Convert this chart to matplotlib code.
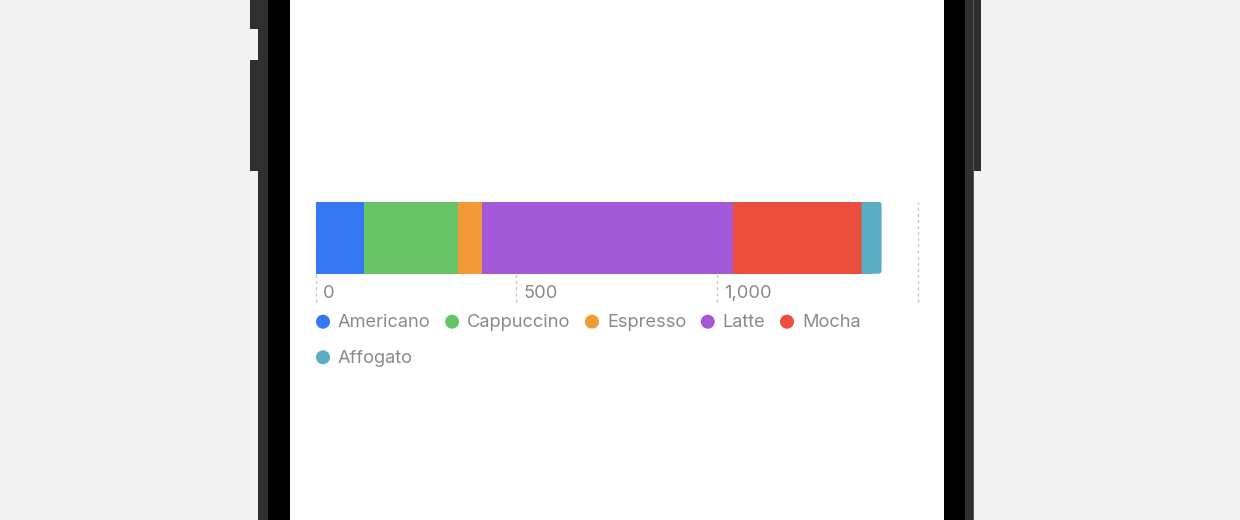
import matplotlib
matplotlib.use("Agg")
import matplotlib.pyplot as plt
from matplotlib.patches import Rectangle, Ellipse, FancyBboxPatch
from matplotlib.transforms import offset_copy

# ---- data ----
categories = ["Americano", "Cappuccino", "Espresso", "Latte", "Mocha", "Affogato"]
values = [120, 235, 60, 625, 320, 50]
colors = ["#3478F6", "#65C466", "#F19A37", "#A258D7", "#EB4E3D", "#59ADC4"]
tick_values = [0, 500, 1000, 1500]
tick_labels = ["0", "500", "1,000", ""]

W, H = 1240, 520
plt.rcParams['font.family'] = ['Inter', 'DejaVu Sans']
fig = plt.figure(figsize=(W / 100, H / 100), dpi=100)
fig.patch.set_facecolor("#F2F2F2")
FS = 13.15
TXT = "#8A8A8E"

def fx(px):
    return px / W

def fy(py):
    return 1 - py / H

def frect(x0, y0, x1, y1, color, z=0):
    fig.add_artist(Rectangle((fx(x0), fy(y1)), fx(x1) - fx(x0), fy(y0) - fy(y1),
                             transform=fig.transFigure, facecolor=color,
                             edgecolor="none", zorder=z))

# ---- phone mockup ----
frect(249.5, 0, 258.5, 29, "#2E2E2E")
frect(249.5, 60, 258.5, 171, "#2E2E2E")
frect(258.3, 0, 268, 520, "#2F2F2F")
frect(268, 0, 290, 520, "#000000")
frect(290, 0, 944.3, 520, "#FFFFFF")
frect(944.3, 0, 965, 520, "#000000")
frect(965, 0, 973.3, 520, "#2F2F2F")
frect(973.3, 0, 974.3, 520, "#555555")
frect(974.3, 0, 981, 171, "#2E2E2E")

# ---- chart axes ----
ax_left, ax_right = 315.7, 917.7
ax_top, ax_bottom = 201.7, 301.7
ax = fig.add_axes([fx(ax_left), fy(ax_bottom), fx(ax_right) - fx(ax_left),
                   fy(ax_top) - fy(ax_bottom)])
ax.set_facecolor("none")
ax.set_xlim(0, 1500)
ax.set_ylim(0, 1)
for s in ax.spines.values():
    s.set_visible(False)
ax.set_xticks([])
ax.set_yticks([])

for v in tick_values:
    ax.axvline(v, color="#C8C8CC", lw=1, ls=(0, (2.2, 2.2)), zorder=1,
               clip_on=False)

bar_h = 0.72
bar_bottom = 1 - bar_h
px_per_x = (ax_right - ax_left) / 1500.0
px_per_y = (ax_bottom - ax_top) / 1.0
radius_px = 3.5
left = 0
for i, (c, v, col) in enumerate(zip(categories, values, colors)):
    if i < len(values) - 1:
        ax.barh(bar_bottom + bar_h / 2, v, left=left, height=bar_h, color=col,
                edgecolor="none", zorder=2)
    else:
        # last segment: rounded trailing corners
        ax.add_patch(FancyBboxPatch(
            (left, bar_bottom), v, bar_h,
            boxstyle=f"round,pad=0,rounding_size={radius_px / px_per_x}",
            mutation_aspect=px_per_x / px_per_y,
            facecolor=col, edgecolor="none", zorder=2))
        ax.barh(bar_bottom + bar_h / 2, v / 2, left=left, height=bar_h,
                color=col, edgecolor="none", zorder=2)
    left += v

tick_tr = offset_copy(ax.transData, fig=fig, x=7 * 0.72, y=0, units='points')
for v, lab in zip(tick_values, tick_labels):
    if lab:
        ax.text(v, 1 - (293.8 - ax_top) / 100, lab, transform=tick_tr,
                ha="left", va="center", fontsize=FS, color=TXT)

# ---- legend (flow layout) ----
renderer = fig.canvas.get_renderer()
x = 316.0
row_y = 321.7
row_gap = 35.6
diam = 14
for c, col in zip(categories, colors):
    t = fig.text(0, 0, c, fontsize=FS, color=TXT, va="center", ha="left")
    tw = t.get_window_extent(renderer).width
    if x + diam + 8 + tw > ax_right + 1:
        x = 316.0
        row_y += row_gap
    fig.add_artist(Ellipse((fx(x + diam / 2), fy(row_y)), diam / W, diam / H,
                           transform=fig.transFigure, facecolor=col,
                           edgecolor="none"))
    t.set_position((fx(x + diam + 8), fy(row_y + 1.0)))
    x += diam + 8 + tw + 14.5

fig.savefig("out.png", dpi=100, facecolor=fig.get_facecolor())
